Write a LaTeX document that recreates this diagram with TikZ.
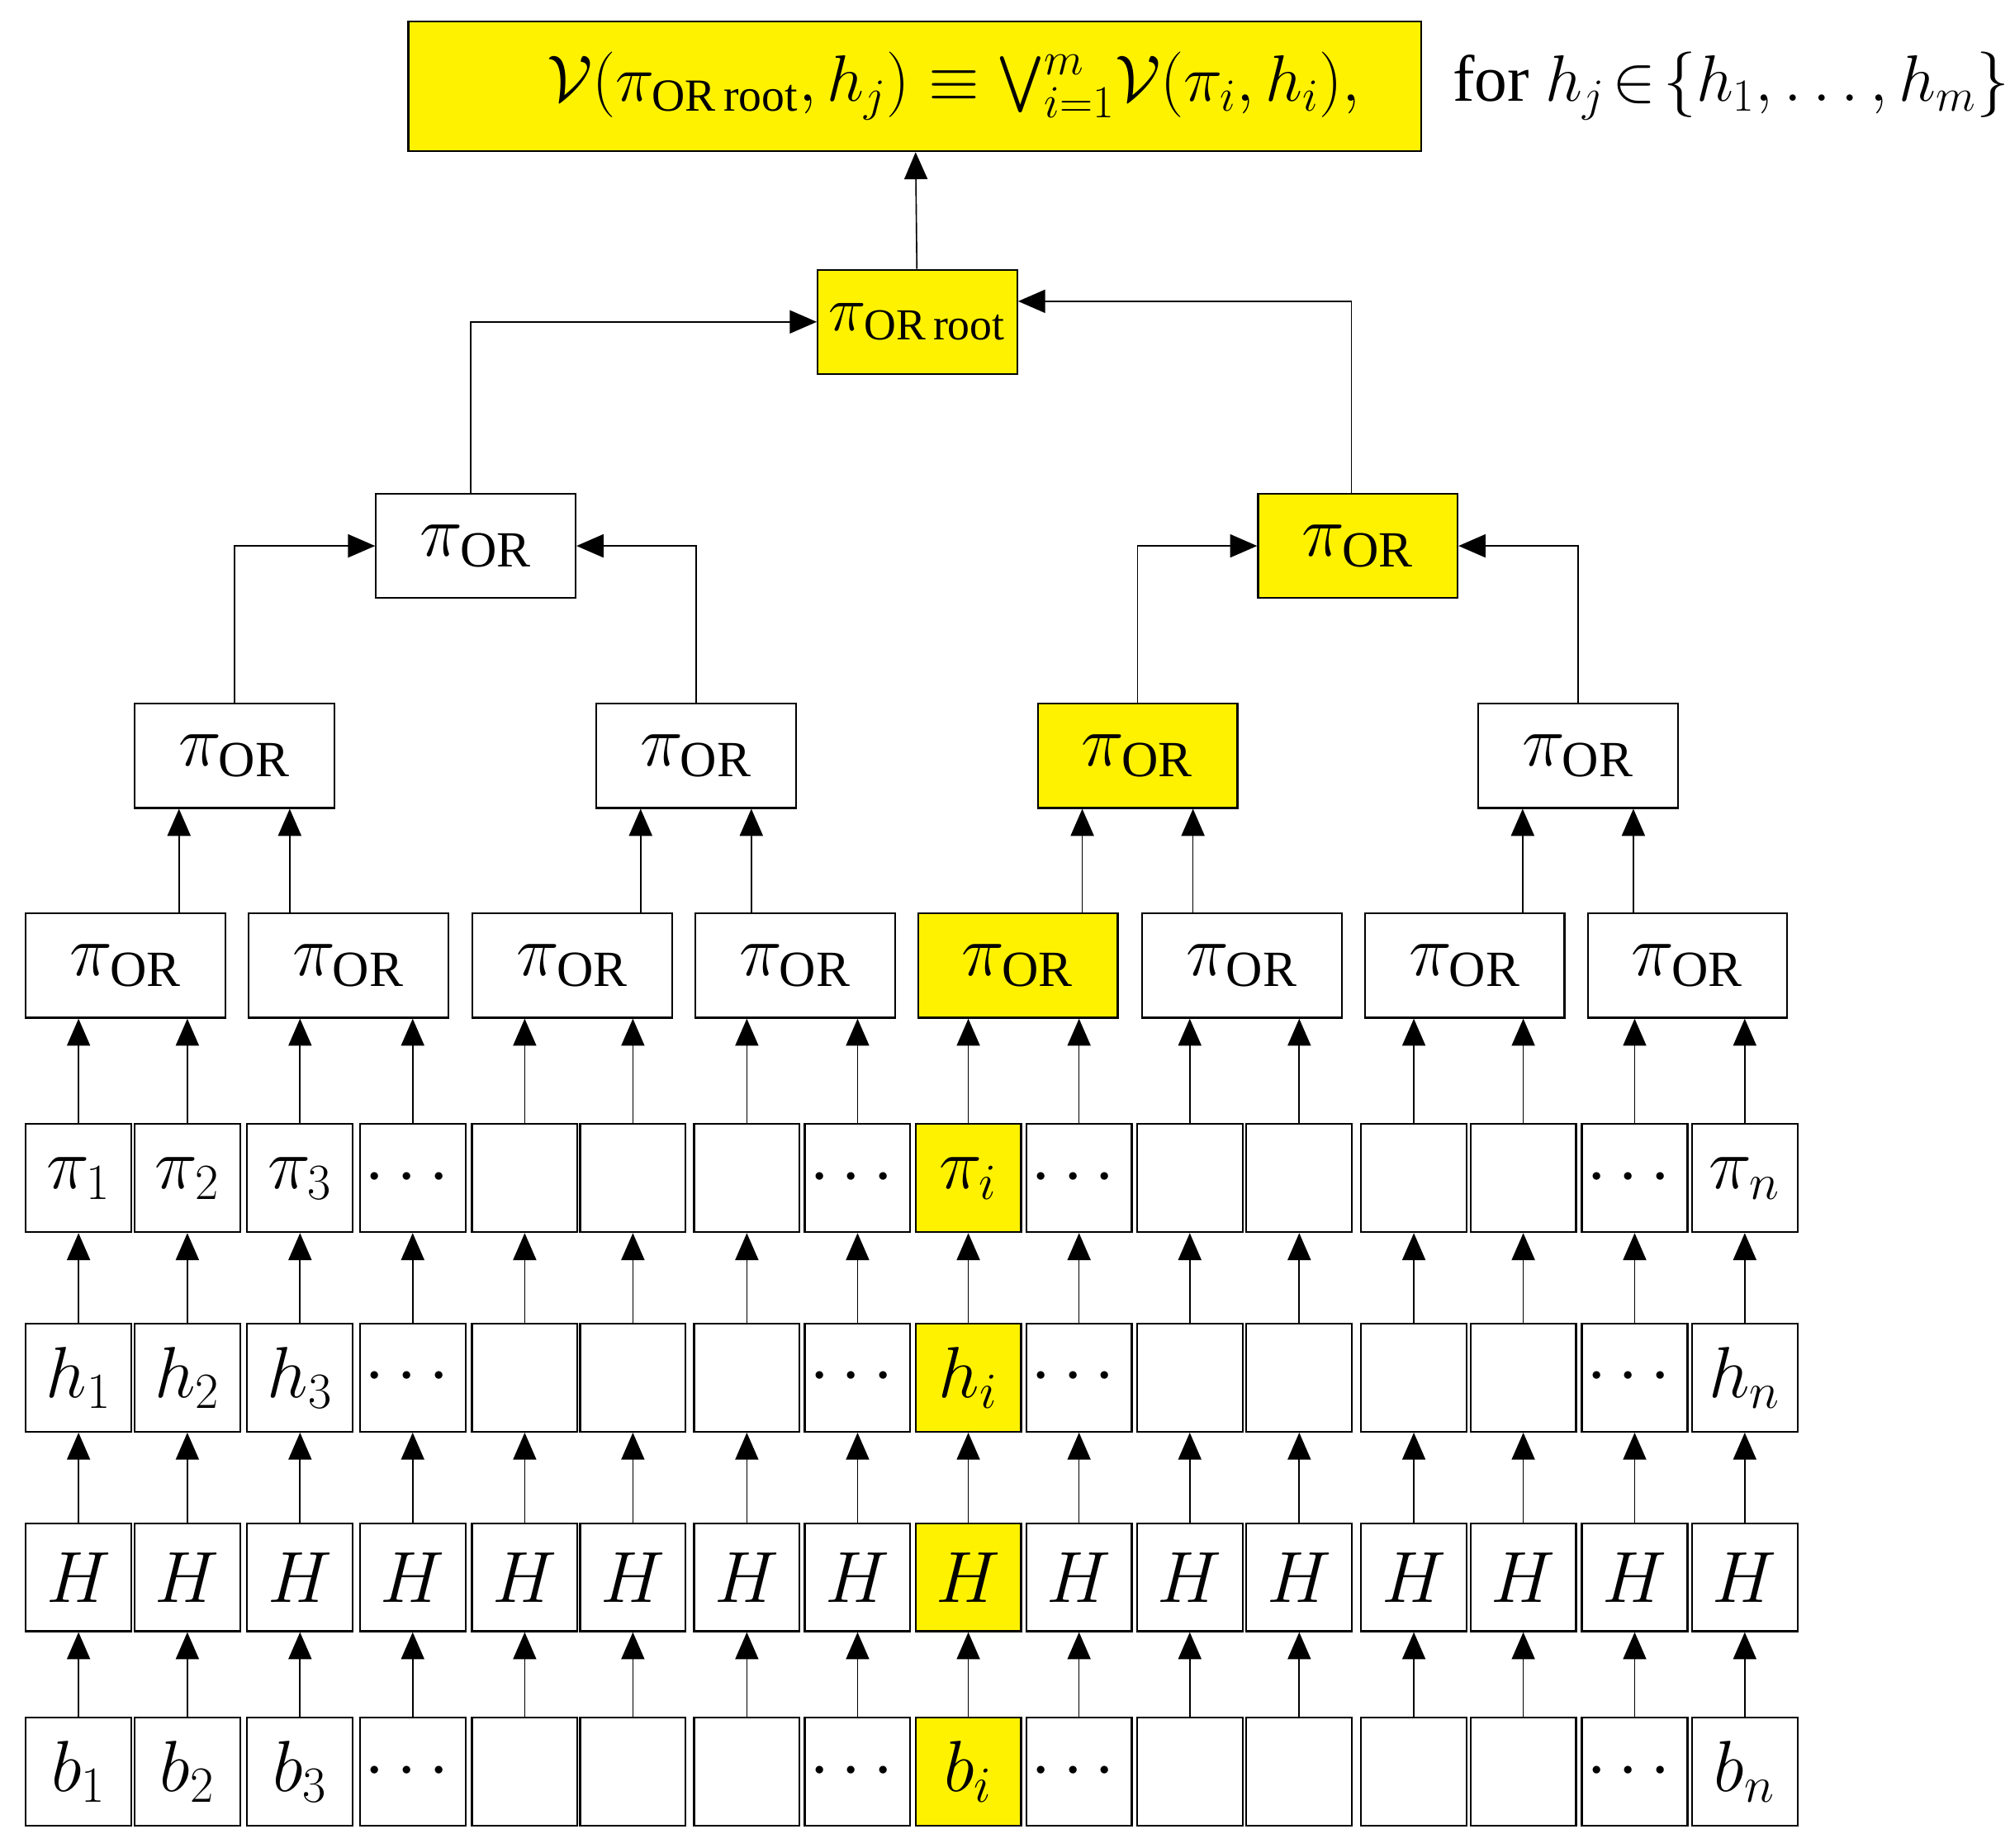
\RequirePackage{fix-cm}
\documentclass[tikz,border=0pt]{standalone}
\usepackage{amsmath}
\usepackage{fontspec}
\setmainfont{Liberation Serif}
\usetikzlibrary{arrows.meta, positioning}

\tikzset{
  cell/.style={draw, thick, minimum width=1.64cm, minimum height=1.68cm, inner sep=0pt},
  orbox/.style={draw, thick, minimum width=3.1cm, minimum height=1.62cm, inner sep=0pt},
  hot/.style={fill=yellow},
  arr/.style={semithick, -{Triangle[length=0.42cm, width=0.36cm]}}
}

\begin{document}
\begin{tikzpicture}[x=0.02cm, y=-0.02cm, font=\fontsize{32}{38}\selectfont]
\useasboundingbox (0,0) rectangle (1561,1435);

% Bottom rows: b, H, h, pi
\foreach \i/\x/\b/\h/\p in {1/61/{$b_1$}/{$h_1$}/{$\pi_1$}, 2/145.5/{$b_2$}/{$h_2$}/{$\pi_2$},
    3/233/{$b_3$}/{$h_3$}/{$\pi_3$}, 4/320.5/{$\cdots$}/{$\cdots$}/{$\cdots$},
    5/407.5/{}/{}/{}, 6/491.5/{}/{}/{}, 7/580/{}/{}/{}, 8/666/{$\cdots$}/{$\cdots$}/{$\cdots$},
    9/752/{$b_i$}/{$h_i$}/{$\pi_i$}, 10/838/{$\cdots$}/{$\cdots$}/{$\cdots$},
    11/924/{}/{}/{}, 12/1009/{}/{}/{}, 13/1098/{}/{}/{}, 14/1183/{}/{}/{},
    15/1269.5/{$\cdots$}/{$\cdots$}/{$\cdots$}, 16/1355/{$b_n$}/{$h_n$}/{$\pi_n$}} {
  \ifnum\i=9 \def\st{hot}\else\def\st{}\fi
  \node[cell, \st] (b\i) at (\x,1376) {\b};
  \node[cell, \st] (H\i) at (\x,1225) {$H$};
  \node[cell, \st] (h\i) at (\x,1070) {\h};
  \node[cell, \st] (p\i) at (\x,915) {\p};
  \draw[arr] (b\i) -- (H\i);
  \draw[arr] (H\i) -- (h\i);
  \draw[arr] (h\i) -- (p\i);
}

% First OR level
\foreach \j/\x in {1/97.5, 2/270.5, 3/444.5, 4/617.5, 5/790.5, 6/964.5, 7/1137.5, 8/1310.5} {
  \ifnum\j=5 \def\st{hot}\else\def\st{}\fi
  \node[orbox, \st] (l1\j) at (\x,750) {$\pi_{\textrm{OR}}$};
}
\foreach \i [evaluate=\i as \j using {int((\i+1)/2)}] in {1,...,16}
  \draw[arr] (p\i.north) -- (p\i.north |- l1\j.south);

% Second OR level
\foreach \k/\x in {1/182, 2/540.5, 3/883.5, 4/1225.5} {
  \ifnum\k=3 \def\st{hot}\else\def\st{}\fi
  \node[orbox, \st] (l2\k) at (\x,587) {$\pi_{\textrm{OR}}$};
  \pgfmathtruncatemacro\a{2*\k-1}
  \pgfmathtruncatemacro\c{2*\k}
  \draw[arr] ([xshift=-0.86cm]l2\k.south |- l1\a.north) -- ([xshift=-0.86cm]l2\k.south);
  \draw[arr] ([xshift=0.86cm]l2\k.south |- l1\c.north) -- ([xshift=0.86cm]l2\k.south);
}

% Third OR level
\node[orbox] (l31) at (369.5,424) {$\pi_{\textrm{OR}}$};
\node[orbox, hot] (l32) at (1054.5,424) {$\pi_{\textrm{OR}}$};
\draw[arr] (l21.north) |- (l31.west);
\draw[arr] (l22.north) |- (l31.east);
\draw[arr] (l23.north) |- (l32.west);
\draw[arr] (l24.north) |- (l32.east);

% Root
\node[orbox, hot, font=\fontsize{28}{34}\selectfont] (root) at (712.5,250) {$\pi_{\textrm{OR\,root}}$};
\draw[arr] ([xshift=-0.08cm]l31.north) |- (root.west);
\draw[arr] ([xshift=-0.1cm]l32.north) |- ([yshift=0.32cm]root.east);

% Result
\node[draw, thick, hot, minimum width=15.74cm, minimum height=2.02cm, font=\fontsize{29}{34}\selectfont] (res) at (710.5,67)
  {\hspace{1.2cm}$\mathcal{V}(\pi_{\textrm{OR\,root}},h_j)\equiv{\bigvee}_{i=1}^{m}\mathcal{V}(\pi_i,h_i),$};
\draw[arr] (root) -- (res);
\node[anchor=west, inner sep=0pt, font=\fontsize{29}{34}\selectfont] (cond) at (1128,67)
  {for $h_j\!\in\!\{h_1,\ldots,h_m\}$};
\end{tikzpicture}
\end{document}
